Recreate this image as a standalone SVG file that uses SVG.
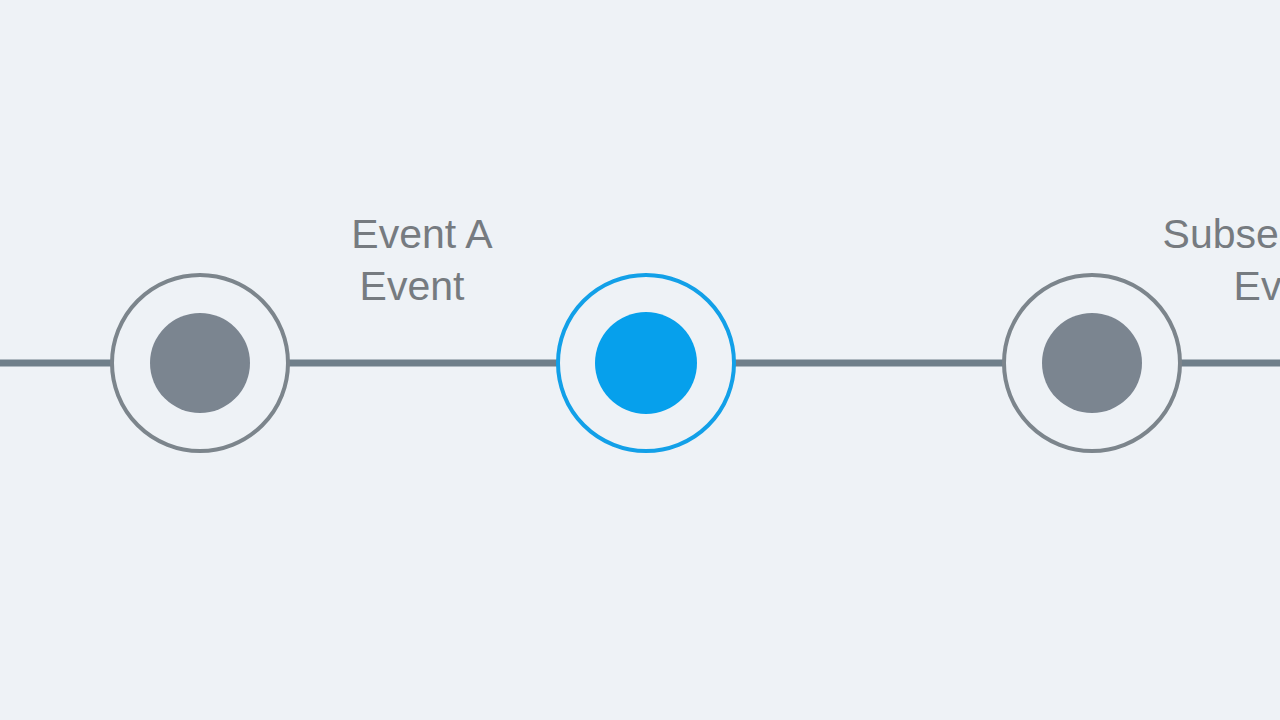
<svg xmlns="http://www.w3.org/2000/svg" width="1280" height="720" viewBox="0 0 1280 720">
<style>
.ring{fill:#eef2f6;stroke-width:4}
.g{stroke:#7c858c}
.b{stroke:#12a0e8}
.t{font-family:"Liberation Sans",Arial,sans-serif;font-size:41px;fill:#767b80;text-anchor:middle}
.ln{stroke:#6f7f8a;stroke-width:7}
</style>
<rect width="1280" height="720" fill="#eef2f6"/>
<g id="connectors">
<line class="ln" x1="0" y1="363" x2="112" y2="363"/>
<line class="ln" x1="288" y1="363" x2="558" y2="363"/>
<line class="ln" x1="734" y1="363" x2="1004" y2="363"/>
<line class="ln" x1="1180" y1="363" x2="1280" y2="363"/>
</g>
<g id="node1"><circle class="ring g" cx="200" cy="363" r="88"/><circle cx="200" cy="363" r="50" fill="#7b8590"/></g>
<g id="node2"><circle class="ring b" cx="646" cy="363" r="88"/><circle cx="646" cy="363" r="51" fill="#06a0ec"/></g>
<g id="node3"><circle class="ring g" cx="1092" cy="363" r="88"/><circle cx="1092" cy="363" r="50" fill="#7b8590"/></g>
<g id="label1"><text class="t" x="422" y="248">Event A</text><text class="t" x="412" y="300">Event</text></g>
<g id="label2"><text class="t" x="1272" y="248">Subsequent</text><text class="t" x="1286" y="300">Event</text></g>
</svg>
